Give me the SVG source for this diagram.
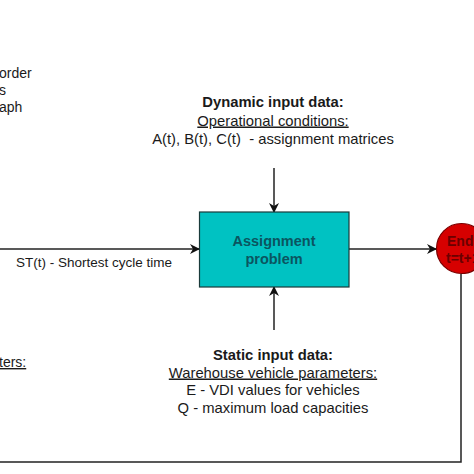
<svg xmlns="http://www.w3.org/2000/svg" width="474" height="474" viewBox="0 0 474 474">
<style>
.t{font-family:"Liberation Sans",Arial,sans-serif;font-size:13.5px;fill:#1a1a1a}
.big{font-size:14.8px}
.b{font-weight:bold}
.u{text-decoration:underline}
.ln{stroke:#222;stroke-width:1.5;fill:none}
</style>
<defs>
<marker id="ah" viewBox="0 0 10 10" refX="9" refY="5" markerWidth="10" markerHeight="10" markerUnits="userSpaceOnUse" orient="auto">
<path d="M0,0 L10,5 L0,10 L3,5 z" fill="#111"/>
</marker>
</defs>
<rect width="474" height="474" fill="#fff"/>
<g id="left-text">
<text class="t" x="-1" y="78" style="font-size:14px">order</text>
<text class="t" x="-1" y="95" style="font-size:14px">s</text>
<text class="t" x="-1" y="112" style="font-size:14px">aph</text>
<text class="t u" x="-1" y="367" style="font-size:14px">ters:</text>
</g>
<g id="dynamic">
<text class="t big" text-anchor="middle" x="273" y="107" xml:space="preserve"><tspan class="b" x="273">Dynamic input data:</tspan><tspan class="u" x="273" dy="18.5">Operational conditions:</tspan><tspan x="273" dy="18">A(t), B(t), C(t)  - assignment matrices</tspan></text>
</g>
<g id="static">
<text class="t big" text-anchor="middle" x="273" y="360"><tspan class="b" x="273">Static input data:</tspan><tspan class="u" x="273" dy="17.5">Warehouse vehicle parameters:</tspan><tspan x="273" dy="17.5">E - VDI values for vehicles</tspan><tspan x="273" dy="17.5">Q - maximum load capacities</tspan></text>
</g>
<g id="connectors">
<line class="ln" x1="0" y1="249" x2="199" y2="249" marker-end="url(#ah)"/>
<line class="ln" x1="274" y1="168" x2="274" y2="212" marker-end="url(#ah)"/>
<line class="ln" x1="274" y1="330" x2="274" y2="287" marker-end="url(#ah)"/>
<line class="ln" x1="349" y1="249" x2="436" y2="249" marker-end="url(#ah)"/>
<polyline class="ln" points="461,274 461,462 0,462" stroke-width="2"/>
<text class="t" x="16" y="267">ST(t) - Shortest cycle time</text>
</g>
<g id="assignment">
<rect x="199.5" y="212" width="149.5" height="75" fill="#00C2C2" stroke="#1a3a3a" stroke-width="1.2"/>
<text class="t b" text-anchor="middle" style="fill:#0B5560;font-size:14.5px"><tspan x="274" y="246">Assignment</tspan><tspan x="274" y="264">problem</tspan></text>
</g>
<g id="end">
<circle cx="461.5" cy="248.5" r="25" fill="#D60000" stroke="#7a0000" stroke-width="1.2"/>
<text class="t b" style="fill:#6a0000;font-size:14px"><tspan x="447" y="246">End</tspan><tspan x="446" y="263">t=t+1</tspan></text>
</g>
</svg>
